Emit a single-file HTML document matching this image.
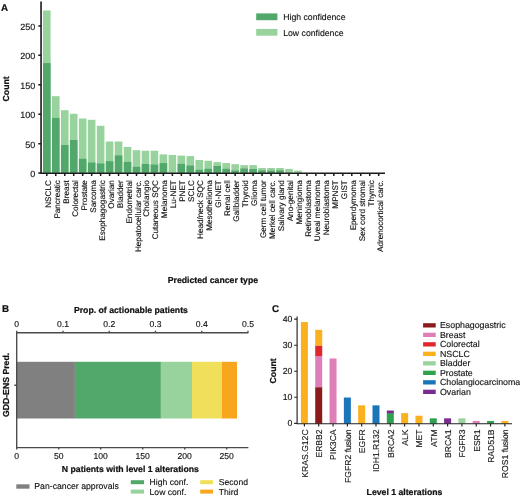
<!DOCTYPE html><html><head><meta charset="utf-8"><title>Figure</title>
<style>html,body{margin:0;padding:0;background:#fff}svg{display:block}text{font-family:"Liberation Sans", Arial, sans-serif;fill:#111;text-rendering:geometricPrecision;stroke:#111;stroke-width:.13px}.b{font-weight:bold;stroke-width:.22px}</style></head><body>
<svg width="520" height="497" viewBox="0 0 520 497">
<rect width="520" height="497" fill="#fff"/>
<rect x="43.00" y="10.50" width="7.60" height="162.30" fill="#98d39d"/>
<rect x="43.00" y="63.10" width="7.60" height="109.70" fill="#52a86b"/>
<rect x="51.97" y="96.15" width="7.60" height="76.65" fill="#98d39d"/>
<rect x="51.97" y="117.90" width="7.60" height="54.90" fill="#52a86b"/>
<rect x="60.94" y="110.20" width="7.60" height="62.60" fill="#98d39d"/>
<rect x="60.94" y="145.00" width="7.60" height="27.80" fill="#52a86b"/>
<rect x="69.91" y="113.80" width="7.60" height="59.00" fill="#98d39d"/>
<rect x="69.91" y="140.00" width="7.60" height="32.80" fill="#52a86b"/>
<rect x="78.88" y="118.50" width="7.60" height="54.30" fill="#98d39d"/>
<rect x="78.88" y="158.80" width="7.60" height="14.00" fill="#52a86b"/>
<rect x="87.85" y="119.80" width="7.60" height="53.00" fill="#98d39d"/>
<rect x="87.85" y="162.50" width="7.60" height="10.30" fill="#52a86b"/>
<rect x="96.82" y="125.80" width="7.60" height="47.00" fill="#98d39d"/>
<rect x="96.82" y="163.50" width="7.60" height="9.30" fill="#52a86b"/>
<rect x="105.79" y="141.50" width="7.60" height="31.30" fill="#98d39d"/>
<rect x="105.79" y="161.20" width="7.60" height="11.60" fill="#52a86b"/>
<rect x="114.76" y="141.50" width="7.60" height="31.30" fill="#98d39d"/>
<rect x="114.76" y="155.40" width="7.60" height="17.40" fill="#52a86b"/>
<rect x="123.73" y="146.90" width="7.60" height="25.90" fill="#98d39d"/>
<rect x="123.73" y="161.90" width="7.60" height="10.90" fill="#52a86b"/>
<rect x="132.70" y="150.20" width="7.60" height="22.60" fill="#98d39d"/>
<rect x="132.70" y="166.80" width="7.60" height="6.00" fill="#52a86b"/>
<rect x="141.67" y="150.70" width="7.60" height="22.10" fill="#98d39d"/>
<rect x="141.67" y="164.00" width="7.60" height="8.80" fill="#52a86b"/>
<rect x="150.64" y="150.70" width="7.60" height="22.10" fill="#98d39d"/>
<rect x="150.64" y="164.60" width="7.60" height="8.20" fill="#52a86b"/>
<rect x="159.61" y="154.40" width="7.60" height="18.40" fill="#98d39d"/>
<rect x="159.61" y="163.10" width="7.60" height="9.70" fill="#52a86b"/>
<rect x="168.58" y="155.00" width="7.60" height="17.80" fill="#98d39d"/>
<rect x="177.55" y="155.60" width="7.60" height="17.20" fill="#98d39d"/>
<rect x="177.55" y="163.90" width="7.60" height="8.90" fill="#52a86b"/>
<rect x="186.52" y="156.10" width="7.60" height="16.70" fill="#98d39d"/>
<rect x="186.52" y="165.60" width="7.60" height="7.20" fill="#52a86b"/>
<rect x="195.49" y="160.00" width="7.60" height="12.80" fill="#98d39d"/>
<rect x="195.49" y="169.80" width="7.60" height="3.00" fill="#52a86b"/>
<rect x="204.46" y="160.80" width="7.60" height="12.00" fill="#98d39d"/>
<rect x="204.46" y="168.80" width="7.60" height="4.00" fill="#52a86b"/>
<rect x="213.43" y="162.10" width="7.60" height="10.70" fill="#98d39d"/>
<rect x="213.43" y="166.00" width="7.60" height="6.80" fill="#52a86b"/>
<rect x="222.40" y="163.00" width="7.60" height="9.80" fill="#98d39d"/>
<rect x="222.40" y="168.80" width="7.60" height="4.00" fill="#52a86b"/>
<rect x="231.37" y="164.20" width="7.60" height="8.60" fill="#98d39d"/>
<rect x="231.37" y="170.60" width="7.60" height="2.20" fill="#52a86b"/>
<rect x="240.34" y="165.10" width="7.60" height="7.70" fill="#98d39d"/>
<rect x="240.34" y="168.50" width="7.60" height="4.30" fill="#52a86b"/>
<rect x="249.31" y="165.10" width="7.60" height="7.70" fill="#98d39d"/>
<rect x="249.31" y="169.00" width="7.60" height="3.80" fill="#52a86b"/>
<rect x="258.28" y="168.00" width="7.60" height="4.80" fill="#98d39d"/>
<rect x="258.28" y="170.40" width="7.60" height="2.40" fill="#52a86b"/>
<rect x="267.25" y="168.00" width="7.60" height="4.80" fill="#98d39d"/>
<rect x="267.25" y="170.70" width="7.60" height="2.10" fill="#52a86b"/>
<rect x="276.22" y="168.00" width="7.60" height="4.80" fill="#98d39d"/>
<rect x="276.22" y="170.40" width="7.60" height="2.40" fill="#52a86b"/>
<rect x="285.19" y="168.90" width="7.60" height="3.90" fill="#98d39d"/>
<rect x="294.16" y="170.60" width="7.60" height="2.20" fill="#98d39d"/>
<g stroke="#1a1a1a" stroke-width="1.6" fill="none">
<path d="M41.05 1.5V174M40.25 173.2H385"/>
<path d="M46.80 173.2V176.1M55.77 173.2V176.1M64.74 173.2V176.1M73.71 173.2V176.1M82.68 173.2V176.1M91.65 173.2V176.1M100.62 173.2V176.1M109.59 173.2V176.1M118.56 173.2V176.1M127.53 173.2V176.1M136.50 173.2V176.1M145.47 173.2V176.1M154.44 173.2V176.1M163.41 173.2V176.1M172.38 173.2V176.1M181.35 173.2V176.1M190.32 173.2V176.1M199.29 173.2V176.1M208.26 173.2V176.1M217.23 173.2V176.1M226.20 173.2V176.1M235.17 173.2V176.1M244.14 173.2V176.1M253.11 173.2V176.1M262.08 173.2V176.1M271.05 173.2V176.1M280.02 173.2V176.1M288.99 173.2V176.1M297.96 173.2V176.1M306.93 173.2V176.1M315.90 173.2V176.1M324.87 173.2V176.1M333.84 173.2V176.1M342.81 173.2V176.1M351.78 173.2V176.1M360.75 173.2V176.1M369.72 173.2V176.1M378.69 173.2V176.1M38.3 173.10H41.2M38.3 143.66H41.2M38.3 114.22H41.2M38.3 84.78H41.2M38.3 55.34H41.2M38.3 25.90H41.2" stroke-width="1.5"/>
</g>
<text x="35.2" y="177.20" font-size="9.0" text-anchor="end">0</text>
<text x="35.2" y="147.76" font-size="9.0" text-anchor="end">50</text>
<text x="35.2" y="118.32" font-size="9.0" text-anchor="end">100</text>
<text x="35.2" y="88.88" font-size="9.0" text-anchor="end">150</text>
<text x="35.2" y="59.44" font-size="9.0" text-anchor="end">200</text>
<text x="35.2" y="30.00" font-size="9.0" text-anchor="end">250</text>
<text transform="translate(50.80 180.2) rotate(-90)" font-size="8.15" text-anchor="end">NSCLC</text>
<text transform="translate(59.77 180.2) rotate(-90)" font-size="8.15" text-anchor="end">Pancreatic</text>
<text transform="translate(68.74 180.2) rotate(-90)" font-size="8.15" text-anchor="end">Breast</text>
<text transform="translate(77.71 180.2) rotate(-90)" font-size="8.15" text-anchor="end">Colorectal</text>
<text transform="translate(86.68 180.2) rotate(-90)" font-size="8.15" text-anchor="end">Prostate</text>
<text transform="translate(95.65 180.2) rotate(-90)" font-size="8.15" text-anchor="end">Sarcoma</text>
<text transform="translate(104.62 180.2) rotate(-90)" font-size="8.15" text-anchor="end">Esophagogastric</text>
<text transform="translate(113.59 180.2) rotate(-90)" font-size="8.15" text-anchor="end">Ovarian</text>
<text transform="translate(122.56 180.2) rotate(-90)" font-size="8.15" text-anchor="end">Bladder</text>
<text transform="translate(131.53 180.2) rotate(-90)" font-size="8.15" text-anchor="end">Endometrial</text>
<text transform="translate(140.50 180.2) rotate(-90)" font-size="8.15" text-anchor="end">Hepatocellular carc.</text>
<text transform="translate(149.47 180.2) rotate(-90)" font-size="8.15" text-anchor="end">Cholangio</text>
<text transform="translate(158.44 180.2) rotate(-90)" font-size="8.15" text-anchor="end">Cutaneous SQC</text>
<text transform="translate(167.41 180.2) rotate(-90)" font-size="8.15" text-anchor="end">Melanoma</text>
<text transform="translate(176.38 180.2) rotate(-90)" font-size="8.15" text-anchor="end">Lu-NET</text>
<text transform="translate(185.35 180.2) rotate(-90)" font-size="8.15" text-anchor="end">PNET</text>
<text transform="translate(194.32 180.2) rotate(-90)" font-size="8.15" text-anchor="end">SCLC</text>
<text transform="translate(203.29 180.2) rotate(-90)" font-size="8.15" text-anchor="end">Head/neck SQC</text>
<text transform="translate(212.26 180.2) rotate(-90)" font-size="8.15" text-anchor="end">Mesothelioma</text>
<text transform="translate(221.23 180.2) rotate(-90)" font-size="8.15" text-anchor="end">GI-NET</text>
<text transform="translate(230.20 180.2) rotate(-90)" font-size="8.15" text-anchor="end">Renal cell</text>
<text transform="translate(239.17 180.2) rotate(-90)" font-size="8.15" text-anchor="end">Gallbladder</text>
<text transform="translate(248.14 180.2) rotate(-90)" font-size="8.15" text-anchor="end">Thyroid</text>
<text transform="translate(257.11 180.2) rotate(-90)" font-size="8.15" text-anchor="end">Glioma</text>
<text transform="translate(266.08 180.2) rotate(-90)" font-size="8.15" text-anchor="end">Germ cell tumor</text>
<text transform="translate(275.05 180.2) rotate(-90)" font-size="8.15" text-anchor="end">Merkel cell carc.</text>
<text transform="translate(284.02 180.2) rotate(-90)" font-size="8.15" text-anchor="end">Salivary gland</text>
<text transform="translate(292.99 180.2) rotate(-90)" font-size="8.15" text-anchor="end">Ano-genital</text>
<text transform="translate(301.96 180.2) rotate(-90)" font-size="8.15" text-anchor="end">Meningioma</text>
<text transform="translate(310.93 180.2) rotate(-90)" font-size="8.15" text-anchor="end">Retinoblastoma</text>
<text transform="translate(319.90 180.2) rotate(-90)" font-size="8.15" text-anchor="end">Uveal melanoma</text>
<text transform="translate(328.87 180.2) rotate(-90)" font-size="8.15" text-anchor="end">Neuroblastoma</text>
<text transform="translate(337.84 180.2) rotate(-90)" font-size="8.15" text-anchor="end">MPNST</text>
<text transform="translate(346.81 180.2) rotate(-90)" font-size="8.15" text-anchor="end">GIST</text>
<text transform="translate(355.78 180.2) rotate(-90)" font-size="8.15" text-anchor="end">Ependymoma</text>
<text transform="translate(364.75 180.2) rotate(-90)" font-size="8.15" text-anchor="end">Sex cord stromal</text>
<text transform="translate(373.72 180.2) rotate(-90)" font-size="8.15" text-anchor="end">Thymic</text>
<text transform="translate(382.69 180.2) rotate(-90)" font-size="8.15" text-anchor="end">Adrenocortical carc.</text>
<text class="b" x="1.0" y="10.7" font-size="9.8">A</text>
<text class="b" transform="translate(9.3 88.9) rotate(-90)" font-size="8.7" text-anchor="middle">Count</text>
<text class="b" x="212.9" y="282.5" font-size="8.7" text-anchor="middle">Predicted cancer type</text>
<rect x="256.2" y="13.4" width="21.2" height="6.8" fill="#52a86b"/>
<rect x="256.2" y="28.9" width="21.2" height="6.8" fill="#98d39d"/>
<text x="283.2" y="20.1" font-size="8.7">High confidence</text>
<text x="283.2" y="35.6" font-size="8.7">Low confidence</text>
<rect x="16.70" y="361.8" width="58.20" height="56.7" fill="#808080"/>
<rect x="74.90" y="361.8" width="86.00" height="56.7" fill="#52a86b"/>
<rect x="160.90" y="361.8" width="31.10" height="56.7" fill="#98d39d"/>
<rect x="192.00" y="361.8" width="29.75" height="56.7" fill="#efdf5a"/>
<rect x="221.75" y="361.8" width="15.25" height="56.7" fill="#f9a61f"/>
<g stroke="#4a4a4a" stroke-width="1.35" fill="none">
<path d="M16.7 332.7V447.6M16.05 332.7H248.4M16.05 447.6H248.4M14.3 385.2H16.7M16.75 332.7V330.7M16.70 447.6V449.6M63.00 332.7V330.7M58.70 447.6V449.6M109.25 332.7V330.7M100.70 447.6V449.6M155.50 332.7V330.7M142.70 447.6V449.6M201.75 332.7V330.7M184.70 447.6V449.6M248.00 332.7V330.7M226.70 447.6V449.6"/>
</g>
<text x="16.75" y="326.7" font-size="8.6" text-anchor="middle">0</text>
<text x="63.00" y="326.7" font-size="8.6" text-anchor="middle">0.1</text>
<text x="109.25" y="326.7" font-size="8.6" text-anchor="middle">0.2</text>
<text x="155.50" y="326.7" font-size="8.6" text-anchor="middle">0.3</text>
<text x="201.75" y="326.7" font-size="8.6" text-anchor="middle">0.4</text>
<text x="248.00" y="326.7" font-size="8.6" text-anchor="middle">0.5</text>
<text x="16.70" y="459.2" font-size="8.6" text-anchor="middle">0</text>
<text x="58.70" y="459.2" font-size="8.6" text-anchor="middle">50</text>
<text x="100.70" y="459.2" font-size="8.6" text-anchor="middle">100</text>
<text x="142.70" y="459.2" font-size="8.6" text-anchor="middle">150</text>
<text x="184.70" y="459.2" font-size="8.6" text-anchor="middle">200</text>
<text x="226.70" y="459.2" font-size="8.6" text-anchor="middle">250</text>
<text class="b" x="2.0" y="311.9" font-size="9.8">B</text>
<text class="b" x="130.9" y="313.3" font-size="8.7" text-anchor="middle">Prop. of actionable patients</text>
<text class="b" x="130.4" y="471.6" font-size="8.7" text-anchor="middle">N patients with level 1 alterations</text>
<text class="b" transform="translate(8.8 385) rotate(-90)" font-size="8.7" text-anchor="middle">GDD-ENS Pred.</text>
<rect x="16.3" y="484.3" width="13.2" height="4.4" fill="#808080"/>
<text x="34.3" y="488.8" font-size="8.7">Pan-cancer approvals</text>
<rect x="130.8" y="480.2" width="13.3" height="4" fill="#52a86b"/>
<rect x="130.8" y="489.6" width="13.3" height="4" fill="#98d39d"/>
<text x="149.6" y="484.9" font-size="8.6">High conf.</text>
<text x="149.6" y="494.8" font-size="8.6">Low conf.</text>
<rect x="200.2" y="480.2" width="12.8" height="4" fill="#efdf5a"/>
<rect x="200.2" y="489.6" width="12.8" height="4" fill="#f9a61f"/>
<text x="218.8" y="484.9" font-size="8.6">Second</text>
<text x="218.8" y="494.8" font-size="8.6">Third</text>
<rect x="300.90" y="322.03" width="7.00" height="101.72" fill="#fbb11e"/>
<rect x="315.22" y="387.11" width="7.00" height="36.64" fill="#8c1a1c"/>
<rect x="315.22" y="355.87" width="7.00" height="31.44" fill="#df7fb8"/>
<rect x="315.22" y="345.46" width="7.00" height="10.61" fill="#e0262b"/>
<rect x="315.22" y="329.84" width="7.00" height="15.82" fill="#fbb11e"/>
<rect x="329.54" y="358.48" width="7.00" height="65.28" fill="#df7fb8"/>
<rect x="343.86" y="397.52" width="7.00" height="26.23" fill="#1b76b9"/>
<rect x="358.18" y="405.33" width="7.00" height="18.42" fill="#fbb11e"/>
<rect x="372.50" y="405.33" width="7.00" height="18.42" fill="#1b76b9"/>
<rect x="386.82" y="413.14" width="7.00" height="10.61" fill="#2fa24e"/>
<rect x="386.82" y="410.54" width="7.00" height="2.80" fill="#7a2a90"/>
<rect x="401.14" y="413.14" width="7.00" height="10.61" fill="#fbb11e"/>
<rect x="415.46" y="415.74" width="7.00" height="8.01" fill="#fbb11e"/>
<rect x="429.78" y="418.34" width="7.00" height="5.41" fill="#2fa24e"/>
<rect x="444.10" y="418.34" width="7.00" height="5.41" fill="#7a2a90"/>
<rect x="458.42" y="418.34" width="7.00" height="5.41" fill="#9bd39c"/>
<rect x="472.74" y="420.95" width="7.00" height="2.80" fill="#df7fb8"/>
<rect x="487.06" y="420.95" width="7.00" height="2.80" fill="#2fa24e"/>
<rect x="501.38" y="420.95" width="7.00" height="2.80" fill="#fbb11e"/>
<g stroke="#222" stroke-width="1.15" fill="none">
<path d="M297.1 316.5V424.3M296.5 423.7H512M304.40 423.7V426.6M318.72 423.7V426.6M333.04 423.7V426.6M347.36 423.7V426.6M361.68 423.7V426.6M376.00 423.7V426.6M390.32 423.7V426.6M404.64 423.7V426.6M418.96 423.7V426.6M433.28 423.7V426.6M447.60 423.7V426.6M461.92 423.7V426.6M476.24 423.7V426.6M490.56 423.7V426.6M504.88 423.7V426.6M294.2 423.30H297.1M294.2 397.27H297.1M294.2 371.24H297.1M294.2 345.21H297.1M294.2 319.18H297.1"/>
</g>
<text x="292.3" y="426.30" font-size="8.7" text-anchor="end">0</text>
<text x="292.3" y="400.27" font-size="8.7" text-anchor="end">10</text>
<text x="292.3" y="374.24" font-size="8.7" text-anchor="end">20</text>
<text x="292.3" y="348.21" font-size="8.7" text-anchor="end">30</text>
<text x="292.3" y="322.18" font-size="8.7" text-anchor="end">40</text>
<text transform="translate(307.80 429.4) rotate(-90)" font-size="8.6" text-anchor="end">KRAS.G12C</text>
<text transform="translate(322.12 429.4) rotate(-90)" font-size="8.6" text-anchor="end">ERBB2</text>
<text transform="translate(336.44 429.4) rotate(-90)" font-size="8.6" text-anchor="end">PIK3CA</text>
<text transform="translate(350.76 429.4) rotate(-90)" font-size="8.6" text-anchor="end">FGFR2 fusion</text>
<text transform="translate(365.08 429.4) rotate(-90)" font-size="8.6" text-anchor="end">EGFR</text>
<text transform="translate(379.40 429.4) rotate(-90)" font-size="8.6" text-anchor="end">IDH1.R132</text>
<text transform="translate(393.72 429.4) rotate(-90)" font-size="8.6" text-anchor="end">BRCA2</text>
<text transform="translate(408.04 429.4) rotate(-90)" font-size="8.6" text-anchor="end">ALK</text>
<text transform="translate(422.36 429.4) rotate(-90)" font-size="8.6" text-anchor="end">MET</text>
<text transform="translate(436.68 429.4) rotate(-90)" font-size="8.6" text-anchor="end">ATM</text>
<text transform="translate(451.00 429.4) rotate(-90)" font-size="8.6" text-anchor="end">BRCA1</text>
<text transform="translate(465.32 429.4) rotate(-90)" font-size="8.6" text-anchor="end">FGFR3</text>
<text transform="translate(479.64 429.4) rotate(-90)" font-size="8.6" text-anchor="end">ESR1</text>
<text transform="translate(493.96 429.4) rotate(-90)" font-size="8.6" text-anchor="end">RAD51B</text>
<text transform="translate(508.28 429.4) rotate(-90)" font-size="8.6" text-anchor="end">ROS1 fusion</text>
<text class="b" x="272.0" y="311.5" font-size="9.8">C</text>
<text class="b" transform="translate(275.5 370.9) rotate(-90)" font-size="8.7" text-anchor="middle">Count</text>
<text class="b" x="404.5" y="494.7" font-size="8.7" text-anchor="middle">Level 1 alterations</text>
<rect x="423.1" y="323.20" width="12.6" height="4.3" fill="#8c1a1c"/>
<text x="440" y="328.40" font-size="8.8">Esophagogastric</text>
<rect x="423.1" y="332.70" width="12.6" height="4.3" fill="#df7fb8"/>
<text x="440" y="337.90" font-size="8.8">Breast</text>
<rect x="423.1" y="342.20" width="12.6" height="4.3" fill="#e0262b"/>
<text x="440" y="347.40" font-size="8.8">Colorectal</text>
<rect x="423.1" y="351.70" width="12.6" height="4.3" fill="#fbb11e"/>
<text x="440" y="356.90" font-size="8.8">NSCLC</text>
<rect x="423.1" y="361.20" width="12.6" height="4.3" fill="#9bd39c"/>
<text x="440" y="366.40" font-size="8.8">Bladder</text>
<rect x="423.1" y="370.70" width="12.6" height="4.3" fill="#2fa24e"/>
<text x="440" y="375.90" font-size="8.8">Prostate</text>
<rect x="423.1" y="380.20" width="12.6" height="4.3" fill="#1b76b9"/>
<text x="440" y="385.40" font-size="8.8">Cholangiocarcinoma</text>
<rect x="423.1" y="389.70" width="12.6" height="4.3" fill="#7a2a90"/>
<text x="440" y="394.90" font-size="8.8">Ovarian</text>
</svg></body></html>
